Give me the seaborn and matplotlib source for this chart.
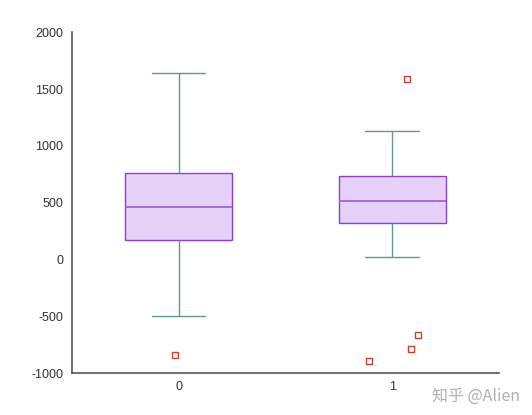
import numpy as np
import pandas as pd
import matplotlib
matplotlib.use("Agg")
import matplotlib.pyplot as plt
import seaborn as sns

# ---- data ----
groups = ["0", "1"]
lower_whisker = [-500, 25]
q1 = [170, 322]
median = [463, 512]
q3 = [765, 733]
upper_whisker = [1640, 1135]

outlier_group = [0, 1, 1, 1, 1]
outlier_value = [-845, 1590, -662, -790, -890]
outlier_jitter = [-0.015, 0.07, 0.12, 0.09, -0.11]

sns.set_theme(style="white")
plt.rcParams["font.family"] = ["Liberation Sans", "Noto Sans CJK SC", "DejaVu Sans"]
plt.rcParams["axes.unicode_minus"] = False

# five-number rows per group so that quartiles match exactly
rows = []
for i, g in enumerate(groups):
    for v in (lower_whisker[i], q1[i], median[i], q3[i], upper_whisker[i]):
        rows.append({"group": g, "value": v})
df = pd.DataFrame(rows)

out_df = pd.DataFrame({
    "x": [outlier_group[k] + outlier_jitter[k] for k in range(len(outlier_value))],
    "value": outlier_value,
})

fig = plt.figure(figsize=(5.32, 4.15), dpi=100)
ax = fig.add_axes([0.1348, 0.101, 0.803, 0.821])

sns.boxplot(
    data=df, x="group", y="value", ax=ax, whis=(0, 100), showfliers=False,
    width=0.5, linewidth=1.0,
    boxprops=dict(facecolor="#e6d1fa", edgecolor="#8a40cc"),
    medianprops=dict(color="#a066d8", linewidth=1.3),
    whiskerprops=dict(color="#5f9a86", linewidth=1.0),
    capprops=dict(color="#5f9a86", linewidth=1.0),
    capwidths=0.25,
)
sns.scatterplot(data=out_df, x="x", y="value", ax=ax, marker="s", s=24,
                facecolor="white", edgecolor="#c8402f", linewidth=1.0, zorder=5)

ax.set_xlim(-0.5, 1.5)
ax.set_ylim(-1000, 2000)
ax.set_yticks([-1000, -500, 0, 500, 1000, 1500, 2000])
ax.set_xticks([0, 1])
ax.set_xticklabels(groups)
ax.set_xlabel("")
ax.set_ylabel("")

for side in ("top", "right"):
    ax.spines[side].set_visible(False)
for side in ("left", "bottom"):
    ax.spines[side].set_color("#555555")
    ax.spines[side].set_linewidth(1.2)
ax.tick_params(axis="both", direction="in", length=4, width=1, color="#333333",
               labelsize=9, labelcolor="#333333", pad=6)

fig.text(0.977, 0.045, "知乎 @Alien", ha="right", va="center", fontsize=11.5,
         color="#b0b0b0", family=["Noto Sans CJK SC", "DejaVu Sans"])

fig.savefig("out.png", dpi=100)
